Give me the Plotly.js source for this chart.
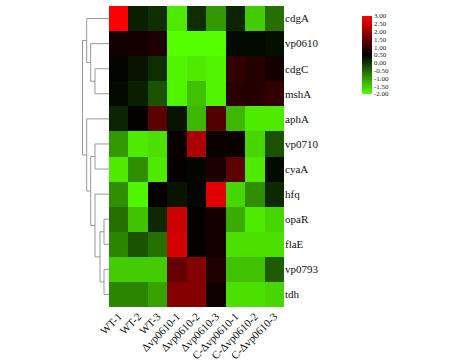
<!DOCTYPE html>
<html>
<head>
<meta charset="utf-8">
<script src="https://cdn.plot.ly/plotly-3.0.1.min.js"></script>
<style>html,body{margin:0;padding:0;background:#fff;}#chart{width:474px;height:361px;}</style>
</head>
<body>
<div id="chart"></div>
<script>
const genes = ['cdgA','vp0610','cdgC','mshA','aphA','vp0710','cyaA','hfq','opaR','flaE','vp0793','tdh'];
const samples = ['WT-1','WT-2','WT-3','Δvp0610-1','Δvp0610-2','Δvp0610-3','C-Δvp0610-1','C-Δvp0610-2','C-Δvp0610-3'];
const expression = [
  [3.0, 0.2, 0.05, -1.8, 0.05, -1.0, 0.15, -1.5, -0.6],
  [0.7, 0.7, 0.8, -2.0, -2.0, -2.0, 0.4, 0.4, 0.35],
  [0.45, 0.3, 0.05, -1.9, -1.8, -1.9, 1.0, 0.85, 0.7],
  [0.4, 0.2, -0.3, -1.9, -1.4, -1.9, 0.9, 0.85, 1.0],
  [0.15, 0.55, 1.4, 0.3, -1.3, 1.3, -1.3, -1.8, -1.8],
  [-1.0, -1.8, -1.7, 0.6, 2.2, 0.6, 0.6, -1.6, -0.3],
  [-1.8, -0.9, -1.8, 0.55, 0.45, 0.75, 1.4, -1.8, 0.4],
  [-0.9, -1.9, 0.55, 0.3, 0.45, 2.7, -1.6, -0.9, 0.1],
  [-0.6, -1.4, 0.1, 2.5, 0.55, 0.7, -1.2, -1.8, -1.6],
  [-0.8, -0.3, -0.6, 2.6, 0.55, 0.7, -1.7, -1.7, -1.7],
  [-1.5, -1.5, -1.5, 1.5, 1.8, 0.8, -1.4, -1.4, -0.4],
  [-0.8, -0.8, -1.1, 1.8, 1.8, 0.65, -1.7, -1.7, -1.6]
];
const colorTicks = [3.0, 2.5, 2.0, 1.5, 1.0, 0.5, 0.0, -0.5, -1.0, -1.5, -2.0];
// row dendrogram merges: [child1, child2, height]
const rowMerges = [
  ['cdgC','mshA',14],
  ['vp0610','n0',18.3],
  ['cdgA','n1',22.3],
  ['opaR','flaE',5],
  ['vp0793','tdh',5],
  ['n3','n4',9],
  ['hfq','n5',14],
  ['vp0710','cyaA',14],
  ['n7','n6',18.3],
  ['aphA','n8',22.3],
  ['n2','n9',26.5]
];

const W = 474, H = 361;
const hmL = 109, hmR = 284, hmT = 6, hmB = 307;

const pos = {};
genes.forEach((g, i) => { pos[g] = {y: i, h: 0}; });
const dx = [], dy = [];
rowMerges.forEach((m, k) => {
  const a = pos[m[0]], b = pos[m[1]], h = m[2];
  dx.push(a.h, h, h, b.h, null);
  dy.push(a.y, a.y, b.y, b.y, null);
  pos['n' + k] = {y: (a.y + b.y) / 2, h: h};
});

const serif = 'Liberation Serif, Times New Roman, serif';

const data = [
  {
    type: 'heatmap',
    z: expression,
    x: samples.map((s, i) => i),
    y: genes.map((g, i) => i),
    zmin: -2, zmax: 3,
    colorscale: [[0, 'rgb(85,255,0)'], [0.5, 'rgb(0,0,0)'], [1, 'rgb(255,0,0)']],
    hoverinfo: 'z',
    colorbar: {
      x: 362 / W, xanchor: 'left', xpad: 0,
      y: 1 - 55 / H, yanchor: 'middle', ypad: 0,
      len: 78, lenmode: 'pixels',
      thickness: 10, thicknessmode: 'pixels',
      outlinewidth: 0,
      tickvals: colorTicks,
      ticktext: colorTicks.map(v => v.toFixed(2)),
      ticks: '',
      ticklabelpad: 2,
      tickfont: {family: serif, size: 7, color: '#222'}
    },
    xaxis: 'x', yaxis: 'y'
  },
  {
    type: 'scatter', mode: 'lines',
    x: dx, y: dy,
    line: {color: '#999', width: 1},
    hoverinfo: 'skip', showlegend: false,
    xaxis: 'x2', yaxis: 'y'
  }
];

const layout = {
  width: W, height: H,
  margin: {l: 0, r: 0, t: 0, b: 0},
  paper_bgcolor: '#fff', plot_bgcolor: 'rgba(0,0,0,0)',
  showlegend: false,
  xaxis: {
    domain: [hmL / W, hmR / W],
    range: [-0.5, samples.length - 0.5],
    tickvals: samples.map((s, i) => i),
    ticktext: samples,
    tickangle: -45,
    ticks: '', showgrid: false, zeroline: false, showline: false,
    tickfont: {family: serif, size: 11, color: '#111'},
    anchor: 'y'
  },
  yaxis: {
    domain: [1 - hmB / H, 1 - hmT / H],
    range: [genes.length - 0.5, -0.5],
    tickvals: genes.map((g, i) => i),
    ticktext: genes,
    side: 'right',
    ticks: '', showgrid: false, zeroline: false, showline: false,
    tickfont: {family: serif, size: 11, color: '#111'},
    anchor: 'x'
  },
  xaxis2: {
    domain: [0, hmL / W],
    range: [hmL, 0],
    showgrid: false, zeroline: false, showticklabels: false, showline: false, ticks: '',
    anchor: 'y'
  }
};

Plotly.newPlot('chart', data, layout, {displayModeBar: false, staticPlot: true});
</script>
</body>
</html>
